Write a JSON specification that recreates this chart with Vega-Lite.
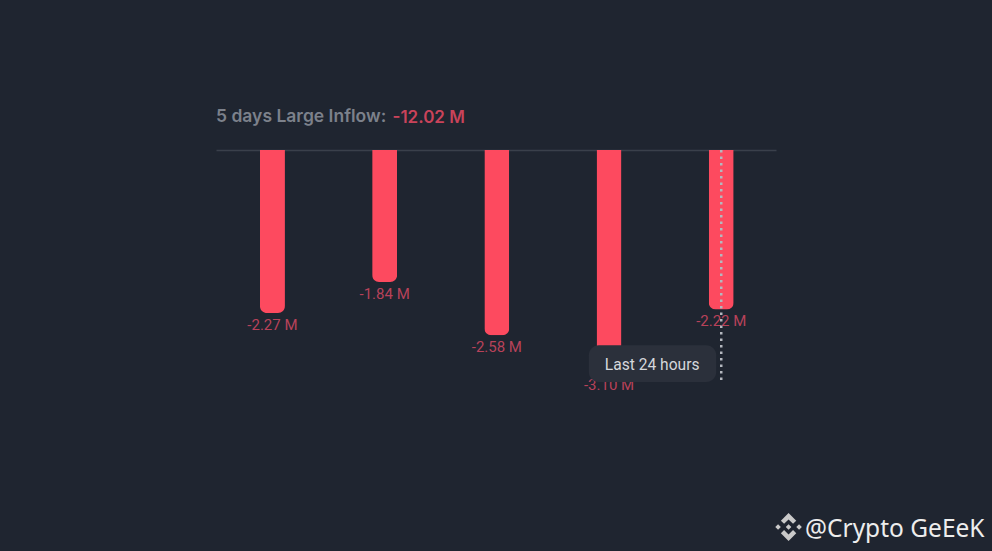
{"$schema":"https://vega.github.io/schema/vega-lite/v6.json","width":560,"height":401,"autosize":"none","padding":{"left":216,"top":150,"right":216,"bottom":0},"background":"#1f2530","view":{"stroke":null},
"title":{"text":"5 days Large Inflow:","anchor":"start","frame":"group","color":"#7c818b","fontSize":17.5,"font":"Inter","fontWeight":600,"offset":22,"dy":39},
"datasets":{"bars":[{"day":1,"value":-2.27,"label":"-2.27 M"},{"day":2,"value":-1.84,"label":"-1.84 M"},{"day":3,"value":-2.58,"label":"-2.58 M"},{"day":4,"value":-3.10,"label":"-3.10 M"},{"day":5,"value":-2.22,"label":"-2.22 M"}],
"note":[{"label":"Last 24 hours","day":4.384,"from":3.82,"to":4.955,"mid":-3.0,"low":-3.23,"high":-2.72,"ruleDay":5,"ruleTop":0}],
"logo":[{"day":5.6,"value":-5.25}]},
"encoding":{"x":{"field":"day","type":"quantitative","scale":{"domain":[0.497,5.488],"nice":false,"zero":false,"padding":0},"axis":{"orient":"top","labels":false,"ticks":false,"grid":false,"domain":true,"domainColor":"#3a404b","domainWidth":1.5,"title":"-12.02 M","titleColor":"#c9435a","titleFont":"Inter","titleFontSize":17,"titleFontWeight":600,"titleAlign":"left","titleAnchor":"start","titleX":176,"titleY":-28,"titleBaseline":"alphabetic"}},
"y":{"field":"value","type":"quantitative","scale":{"domain":[-5.585,0],"nice":false,"zero":false},"axis":{"labels":false,"ticks":false,"grid":false,"domain":false,"title":"@Crypto GeEeK","titleColor":"#ededed","titleFont":"Noto Sans","titleFontSize":24.5,"titleFontWeight":400,"titleAngle":0,"titleAlign":"right","titleBaseline":"alphabetic","titleX":768,"titleY":386}}},
"layer":[
{"data":{"name":"bars"},"mark":{"type":"bar","size":25,"color":"#fd4a5f","cornerRadiusBottomLeft":7,"cornerRadiusBottomRight":7}},
{"data":{"name":"bars"},"mark":{"type":"text","font":"Roboto","fontSize":15,"color":"#b8425a","baseline":"middle","dy":12},"encoding":{"text":{"field":"label"}}},
{"data":{"name":"note"},"mark":{"type":"rule","color":"#b4b8bf","strokeWidth":2.5,"strokeDash":[2.5,4]},"encoding":{"x":{"field":"ruleDay","type":"quantitative"},"y":{"field":"ruleTop","type":"quantitative"},"y2":{"field":"low"}}},
{"data":{"name":"note"},"mark":{"type":"rect","color":"#2b303b","cornerRadius":10},"encoding":{"x":{"field":"from","type":"quantitative"},"x2":{"field":"to"},"y":{"field":"low","type":"quantitative"},"y2":{"field":"high"}}},
{"data":{"name":"note"},"mark":{"type":"text","font":"Roboto","fontSize":15.6,"color":"#d5d7db"},"encoding":{"x":{"field":"day","type":"quantitative"},"y":{"field":"mid","type":"quantitative"},"text":{"field":"label"}}},
{"data":{"name":"logo"},"mark":{"type":"point","filled":true,"opacity":1,"color":"#c9c9c9","size":784,"shape":"M0-.2L.2 0 0 .2-.2 0ZM-.75-.2L-.55 0-.75 .2-.95 0ZM.75-.2L.95 0 .75 .2 .55 0ZM0-1L.55-.45.32-.22 0-.54-.32-.22-.55-.45ZM0 1L.55 .45.32 .22 0 .54-.32 .22-.55 .45Z"}}
]}
